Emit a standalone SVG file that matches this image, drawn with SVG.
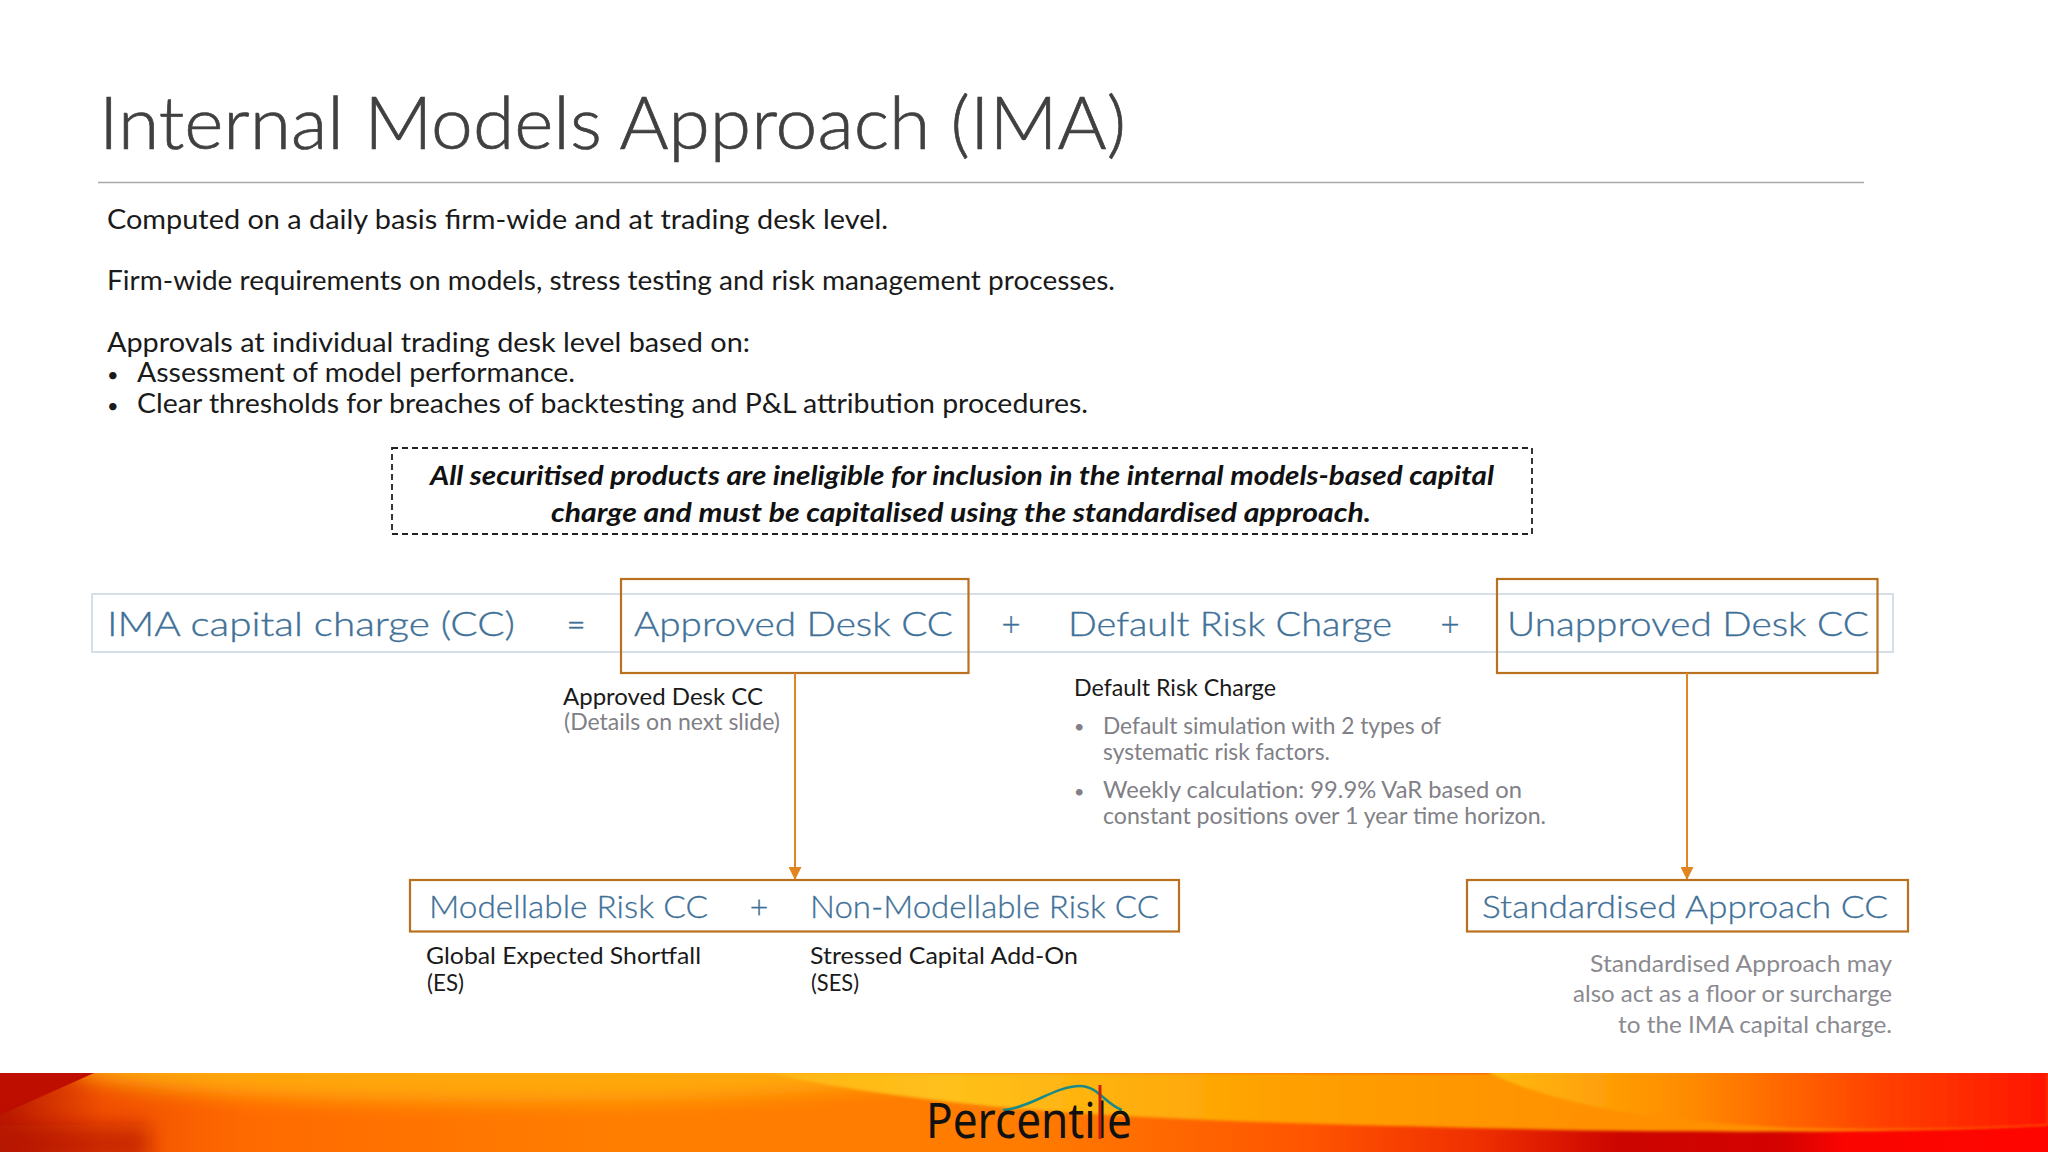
<svg xmlns="http://www.w3.org/2000/svg" width="2048" height="1152" viewBox="0 0 2048 1152">
<style>
text{font-family:"Lato","Open Sans","Liberation Sans",sans-serif}
.title{font-size:72px;fill:#404040;font-weight:300;stroke:#404040;stroke-width:.7}
.body{font-size:26px;fill:#1a1a1a}
.main{font-size:33px;fill:#3f7198;font-weight:300;stroke:#3f7198;stroke-width:.35}
.sub{font-size:32px;fill:#3f7198;font-weight:300;stroke:#3f7198;stroke-width:.3}
.lab{font-size:23px;fill:#1a1a1a}
.gry{font-size:23px;fill:#808086}
.note{font-size:23px;fill:#8a8a90}
.dot{font-size:18px;fill:#808086}
.dotb{font-size:20px;fill:#1a1a1a}
.bold{font-size:27px;font-weight:700;font-style:italic;fill:#111}
.box{fill:none;stroke:#b9701f;stroke-width:2.2}
.conn{fill:none;stroke:#e0851f;stroke-width:2;marker-end:url(#ah)}
</style>
<defs>
<marker id="ah" viewBox="0 0 13 13" refX="13" refY="6.5" markerWidth="13" markerHeight="13" markerUnits="userSpaceOnUse" orient="auto"><path d="M0 0L13 6.500L0 13z" fill="#e0851f"/></marker>
<linearGradient id="fbase" x1="0" x2="1" y1="0" y2="0"><stop offset="0" stop-color="#b81800"/><stop offset=".05" stop-color="#f05000"/><stop offset=".12" stop-color="#ff6a00"/><stop offset=".3" stop-color="#ff7e00"/><stop offset=".5" stop-color="#ff7c00"/><stop offset=".64" stop-color="#ff5400"/><stop offset=".72" stop-color="#f03000"/><stop offset=".79" stop-color="#cc0500"/><stop offset=".87" stop-color="#d40200"/><stop offset=".9" stop-color="#fa0500"/><stop offset="1" stop-color="#ff0500"/></linearGradient>
<linearGradient id="fyel" gradientUnits="userSpaceOnUse" x1="810" x2="1600" y1="0" y2="0"><stop offset="0" stop-color="#ffb818"/><stop offset=".18" stop-color="#ffc01a"/><stop offset=".6" stop-color="#ffa000"/><stop offset="1" stop-color="#ff9000"/></linearGradient>
<linearGradient id="fr" gradientUnits="userSpaceOnUse" x1="1500" x2="2048" y1="0" y2="0"><stop offset="0" stop-color="#ffb80e"/><stop offset=".35" stop-color="#ff8a00"/><stop offset=".7" stop-color="#ff4000"/><stop offset="1" stop-color="#ff1500"/></linearGradient>
<filter id="b1" x="-5%" y="-20%" width="110%" height="140%"><feGaussianBlur stdDeviation="1.500"/></filter>
<filter id="b8" x="-20%" y="-100%" width="140%" height="300%"><feGaussianBlur stdDeviation="10"/></filter>
<clipPath id="fc"><rect x="0" y="1073" width="2048" height="79"/></clipPath>
</defs>
<rect width="2048" height="1152" fill="#fff"/>

<g id="footer" clip-path="url(#fc)">
<rect x="0" y="1073" width="2048" height="79" fill="url(#fbase)"/>
<ellipse cx="500" cy="1068" rx="430" ry="34" fill="#ffb010" opacity=".85" filter="url(#b8)"/>
<path d="M770 1073C980 1120 1250 1122 1560 1130C1800 1134 1950 1130 2048 1125V1073z" fill="url(#fyel)" filter="url(#b1)"/>
<path d="M1489 1073C1560 1105 1640 1120 1790 1128C1880 1130 1970 1130 2048 1125V1060H1489z" fill="url(#fr)" filter="url(#b1)"/>
<path d="M0 1073H94L0 1115z" fill="#bd0e00"/>
<rect x="0" y="1125" width="150" height="40" fill="#b00a00" opacity=".6" filter="url(#b8)"/>
</g>

<g id="logo">
<path d="M1003 1110C1030 1108 1055 1086 1080 1086C1098 1086 1105 1104 1122 1110" fill="none" stroke="#1a8a88" stroke-width="2.600"/>
<text x="926" y="1138" textLength="206" lengthAdjust="spacingAndGlyphs" style="font-family:'Noto Sans','Open Sans',sans-serif;font-size:50px;fill:#111">Percentile</text>
<rect x="1098.500" y="1085" width="3" height="54" fill="#c8200a"/>
</g>

<g id="heading">
<text class="title" x="99" y="149" textLength="1027" lengthAdjust="spacingAndGlyphs">Internal Models Approach (IMA)</text>
<line x1="98" y1="182.500" x2="1864" y2="182.500" stroke="#a8a8a8" stroke-width="1.500"/>
</g>

<g id="intro">
<text class="body" x="107" y="229" textLength="781" lengthAdjust="spacingAndGlyphs">Computed on a daily basis firm-wide and at trading desk level.</text>
<text class="body" x="107" y="290" textLength="1008" lengthAdjust="spacingAndGlyphs">Firm-wide requirements on models, stress testing and risk management processes.</text>
<text class="body" x="107" y="352" textLength="643" lengthAdjust="spacingAndGlyphs">Approvals at individual trading desk level based on:</text>
<text class="dotb" x="107" y="382">•</text>
<text class="body" x="137" y="382" textLength="438" lengthAdjust="spacingAndGlyphs">Assessment of model performance.</text>
<text class="dotb" x="107" y="413">•</text>
<text class="body" x="137" y="413" textLength="951" lengthAdjust="spacingAndGlyphs">Clear thresholds for breaches of backtesting and P&amp;L attribution procedures.</text>
</g>

<g id="callout">
<rect x="392" y="448" width="1140" height="86" fill="none" stroke="#222" stroke-width="1.800" stroke-dasharray="6 4"/>
<text class="bold" x="430" y="485" textLength="1064" lengthAdjust="spacingAndGlyphs">All securitised products are ineligible for inclusion in the internal models-based capital</text>
<text class="bold" x="551" y="522" textLength="820" lengthAdjust="spacingAndGlyphs">charge and must be capitalised using the standardised approach.</text>
</g>

<g id="ima-band">
<rect x="92" y="594" width="1801" height="58" fill="#fff" stroke="#d5dfe8" stroke-width="2"/>
<text class="main" x="107" y="636" textLength="408" lengthAdjust="spacingAndGlyphs">IMA capital charge (CC)</text>
<text class="main" x="576" y="636" text-anchor="middle">=</text>
<text class="main" x="1011" y="636" text-anchor="middle">+</text>
<text class="main" x="1450" y="636" text-anchor="middle">+</text>
</g>

<g id="approved-desk-cc">
<rect class="box" x="621" y="579" width="347.500" height="94"/>
<text class="main" x="634" y="636" textLength="319" lengthAdjust="spacingAndGlyphs">Approved Desk CC</text>
</g>
<g id="default-risk-charge">
<text class="main" x="1068" y="636" textLength="324" lengthAdjust="spacingAndGlyphs">Default Risk Charge</text>
</g>
<g id="unapproved-desk-cc">
<rect class="box" x="1497" y="579" width="380.500" height="94"/>
<text class="main" x="1507" y="636" textLength="362" lengthAdjust="spacingAndGlyphs">Unapproved Desk CC</text>
</g>

<g id="approved-note">
<text class="lab" x="563" y="705" textLength="200" lengthAdjust="spacingAndGlyphs">Approved Desk CC</text>
<text class="gry" x="564" y="730" textLength="216" lengthAdjust="spacingAndGlyphs">(Details on next slide)</text>
</g>
<g id="default-note">
<text class="lab" x="1074" y="696" textLength="202" lengthAdjust="spacingAndGlyphs">Default Risk Charge</text>
<text class="dot" x="1074" y="733">•</text>
<text class="gry" x="1103" y="734" textLength="338" lengthAdjust="spacingAndGlyphs">Default simulation with 2 types of</text>
<text class="gry" x="1103" y="760" textLength="227" lengthAdjust="spacingAndGlyphs">systematic risk factors.</text>
<text class="dot" x="1074" y="798">•</text>
<text class="gry" x="1103" y="798" textLength="419" lengthAdjust="spacingAndGlyphs">Weekly calculation: 99.9% VaR based on</text>
<text class="gry" x="1103" y="824" textLength="443" lengthAdjust="spacingAndGlyphs">constant positions over 1 year time horizon.</text>
</g>

<g id="connectors">
<path class="conn" d="M795 673V880"/>
<path class="conn" d="M1687 673V880"/>
</g>

<g id="risk-cc">
<rect class="box" x="410" y="880" width="769" height="51.500"/>
<text class="sub" x="429" y="918" textLength="279" lengthAdjust="spacingAndGlyphs">Modellable Risk CC</text>
<text class="sub" x="759" y="918" text-anchor="middle">+</text>
<text class="sub" x="810" y="918" textLength="349" lengthAdjust="spacingAndGlyphs">Non-Modellable Risk CC</text>
</g>
<g id="standardised-approach-cc">
<rect class="box" x="1467" y="880" width="441" height="51.500"/>
<text class="sub" x="1482" y="918" textLength="406" lengthAdjust="spacingAndGlyphs">Standardised Approach CC</text>
</g>

<g id="risk-notes">
<text class="lab" x="426" y="964" textLength="275" lengthAdjust="spacingAndGlyphs">Global Expected Shortfall</text>
<text class="lab" x="427" y="991" textLength="37" lengthAdjust="spacingAndGlyphs">(ES)</text>
<text class="lab" x="810" y="964" textLength="268" lengthAdjust="spacingAndGlyphs">Stressed Capital Add-On</text>
<text class="lab" x="811" y="991" textLength="48" lengthAdjust="spacingAndGlyphs">(SES)</text>
</g>
<g id="standardised-note">
<text class="note" x="1590" y="972" textLength="302" lengthAdjust="spacingAndGlyphs">Standardised Approach may</text>
<text class="note" x="1573" y="1002" textLength="319" lengthAdjust="spacingAndGlyphs">also act as a floor or surcharge</text>
<text class="note" x="1618" y="1033" textLength="274" lengthAdjust="spacingAndGlyphs">to the IMA capital charge.</text>
</g>
</svg>
